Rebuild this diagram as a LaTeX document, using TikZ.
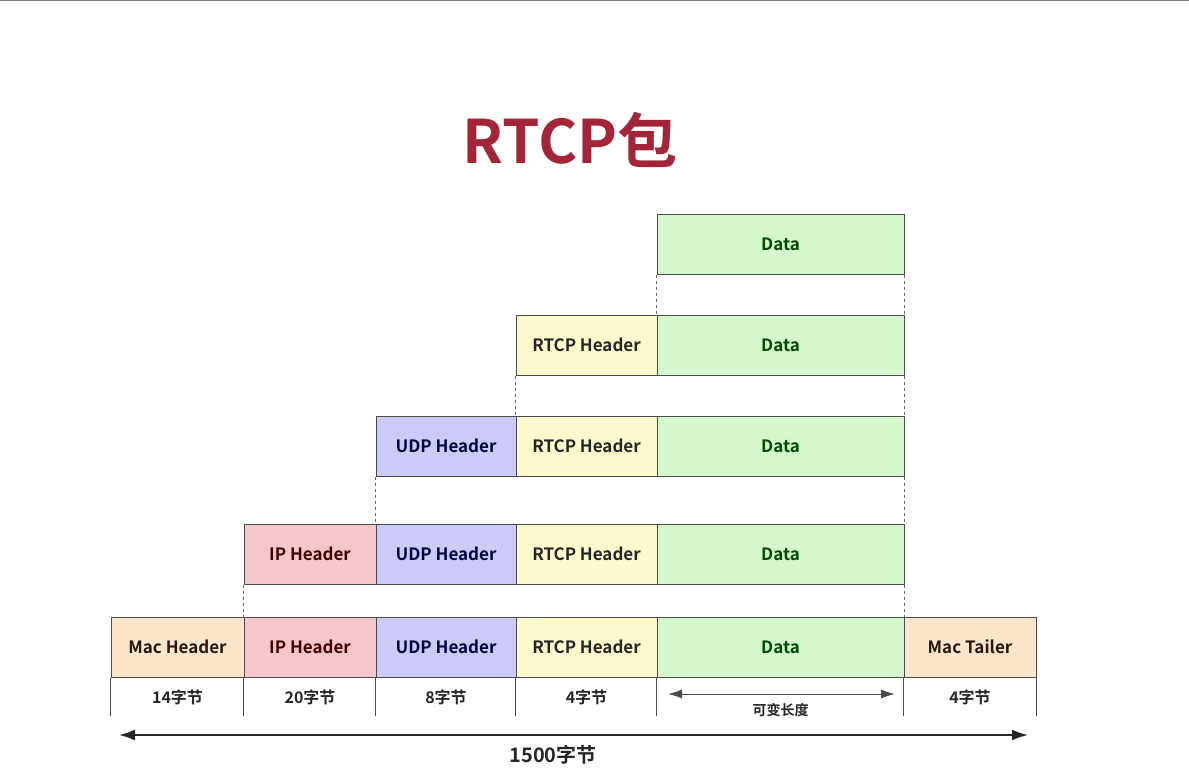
\documentclass[tikz,border=0pt]{standalone}
\usepackage{fontspec}
\setmainfont{Noto Sans CJK SC}[BoldFont={* Bold}]
\usetikzlibrary{arrows.meta}
\definecolor{cmac}{HTML}{FBE6CC}
\definecolor{cip}{HTML}{F5C6CC}
\definecolor{cudp}{HTML}{CCCAF7}
\definecolor{crtcp}{HTML}{FCF9CC}
\definecolor{cdata}{HTML}{D5F7CD}
\definecolor{ctitle}{HTML}{A32638}
\tikzset{
  x=1pt,y=-1pt,
  box/.style={draw=black!70,line width=1pt,minimum height=60pt,inner sep=0pt,font=\fontsize{17}{17}\selectfont\bfseries},
  mac/.style={box,fill=cmac,text=black!80!brown},
  ip/.style={box,fill=cip,text=black!75!red},
  udp/.style={box,fill=cudp,text=black!75!blue},
  rtcp/.style={box,fill=crtcp,text=black!85},
  dat/.style={box,fill=cdata,text=black!70!green},
  dsh/.style={dashed,draw=black!60,line width=0.8pt},
  lbl/.style={font=\fontsize{16}{16}\selectfont\bfseries,text=black!85},
  sep/.style={draw=black!70,line width=1pt}
}
\begin{document}
\begin{tikzpicture}
\useasboundingbox (0,0) rectangle (1189,773);
\draw[black!50,line width=1pt] (0,1) -- (1189,1);
\node[font=\fontsize{60}{60}\selectfont\bfseries,text=ctitle] (title) at (570,140) {RTCP包};
\def\WA{133}\def\WB{132}\def\WC{140}\def\WD{141}\def\WE{247}\def\WF{132}
% row 1
\node[dat,minimum width=\WE] (d1) at (780.5,244) {Data};
% row 2
\node[rtcp,minimum width=\WD] (r2) at (586.5,345) {RTCP Header};
\node[dat,minimum width=\WE] (d2) at (780.5,345) {Data};
% row 3
\node[udp,minimum width=\WC] (u3) at (446,446) {UDP Header};
\node[rtcp,minimum width=\WD] (r3) at (586.5,446) {RTCP Header};
\node[dat,minimum width=\WE] (d3) at (780.5,446) {Data};
% row 4
\node[ip,minimum width=\WB] (i4) at (310,554) {IP Header};
\node[udp,minimum width=\WC] (u4) at (446,554) {UDP Header};
\node[rtcp,minimum width=\WD] (r4) at (586.5,554) {RTCP Header};
\node[dat,minimum width=\WE] (d4) at (780.5,554) {Data};
% row 5
\node[mac,minimum width=\WA] (m5) at (177.5,647) {Mac Header};
\node[ip,minimum width=\WB] (i5) at (310,647) {IP Header};
\node[udp,minimum width=\WC] (u5) at (446,647) {UDP Header};
\node[rtcp,minimum width=\WD] (r5) at (586.5,647) {RTCP Header};
\node[dat,minimum width=\WE] (d5) at (780.5,647) {Data};
\node[mac,minimum width=\WF] (t5) at (970,647) {Mac Tailer};
% dashed guides
\draw[dsh] (d1.south west) -- (d2.north west);
\draw[dsh] (d1.south east) -- (d2.north east);
\draw[dsh] (r2.south west) -- (r3.north west);
\draw[dsh] (d2.south east) -- (d3.north east);
\draw[dsh] (u3.south west) -- (u4.north west);
\draw[dsh] (d3.south east) -- (d4.north east);
\draw[dsh] (i4.south west) -- (i5.north west);
\draw[dsh] (d4.south east) -- (d5.north east);
% separators below
\foreach \n in {m5,i5,u5,r5,d5,t5}{
  \draw[sep] (\n.south west) -- ++(0,38);
}
\draw[sep] (t5.south east) -- ++(0,38);
% size labels
\node[lbl] (l1) at (177.5,697) {14字节};
\node[lbl] (l2) at (310,697) {20字节};
\node[lbl] (l3) at (446,697) {8字节};
\node[lbl] (l4) at (586.5,697) {4字节};
\node[lbl] (l6) at (970,697) {4字节};
\coordinate (va) at (668,694);
\coordinate (vb) at (895,694);
\draw[{Latex[length=14pt,width=9pt]}-{Latex[length=14pt,width=9pt]},black!70,line width=0.9pt] (va) -- (vb);
\node[font=\fontsize{14}{14}\selectfont\bfseries,text=black!85] (l5) at (780.5,710) {可变长度};
% total arrow
\coordinate (ta) at (119,735);
\coordinate (tb) at (1028,735);
\draw[{Latex[length=16pt,width=11pt]}-{Latex[length=16pt,width=11pt]},black!85,line width=1.8pt] (ta) -- (tb);
\node[font=\fontsize{20}{20}\selectfont\bfseries,text=black!85] (tot) at (553,755) {1500字节};
\end{tikzpicture}
\end{document}
